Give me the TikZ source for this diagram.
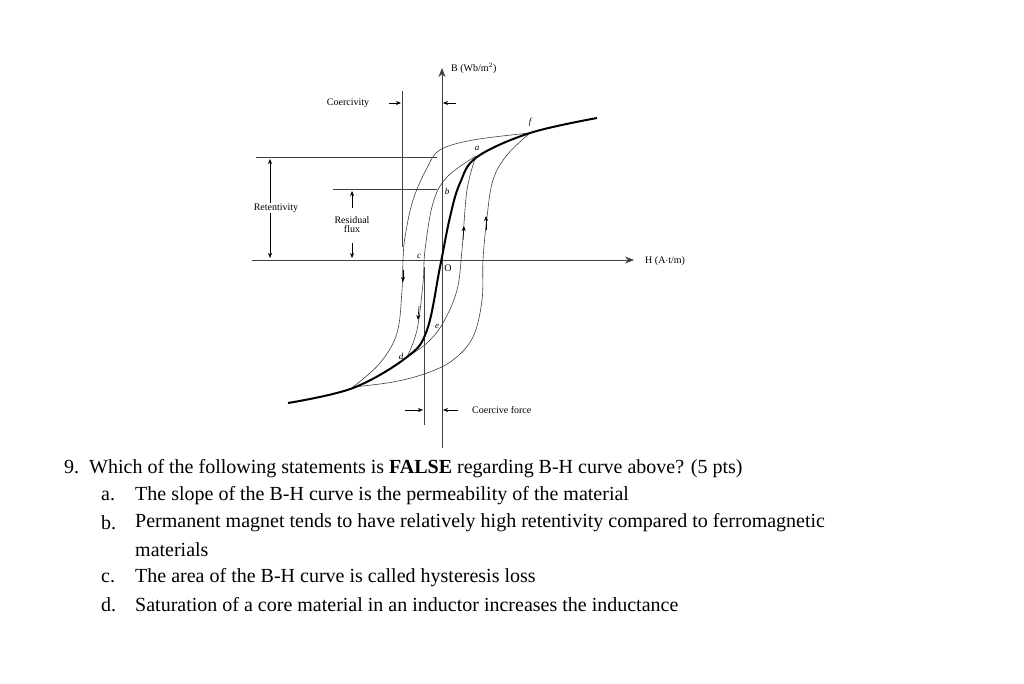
\documentclass[tikz,border=0pt]{standalone}
\usepackage{fontspec}
\setmainfont{Liberation Serif}
\usetikzlibrary{arrows.meta}
\begin{document}
\begin{tikzpicture}[x=1pt,y=-1pt,
  thin line/.style={line width=0.6pt,black!75},
  thick curve/.style={line width=2pt},
  lbl/.style={font=\fontsize{10}{11}\selectfont,inner sep=1pt},
  let/.style={font=\fontsize{9}{10}\selectfont\itshape,inner sep=0pt},
  q/.style={font=\fontsize{20}{24}\selectfont,anchor=west,inner sep=0pt},
  arr/.style={-{Stealth[length=5pt,width=4pt]},line width=0.6pt},
  mid/.style={postaction={decorate}}]
\useasboundingbox (0,0) rectangle (1024,683);
% axes
\coordinate (Bb) at (442,448); \coordinate (Bt) at (442,68);
\coordinate (Hl) at (252,260); \coordinate (Hr) at (634,260);
\draw[thin line,-{Stealth[length=9pt,width=7pt]}] (Bb) -- (Bt);
\draw[thin line,-{Stealth[length=9pt,width=7pt]}] (Hl) -- (Hr);
\node[lbl,anchor=west] (Blab) at (450,68) {B (Wb/m$^2$)};
\node[lbl,anchor=west] (Hlab) at (644,261) {H (A$\cdot$t/m)};
% coercivity
\coordinate (c1) at (402,91); \coordinate (c2) at (402,247);
\draw[thin line] (c1) -- (c2);
\node[lbl] (coer) at (348,103) {Coercivity};
\coordinate (ca1) at (389,103); \coordinate (ca2) at (401,103);
\coordinate (cb1) at (456,103); \coordinate (cb2) at (443,103);
\draw[arr] (ca1) -- (ca2); \draw[arr] (cb1) -- (cb2);
% coercive force
\coordinate (f1) at (424,267); \coordinate (f2) at (424,425);
\draw[thin line] (f1) -- (f2);
\coordinate (fa1) at (405,410); \coordinate (fa2) at (423,410);
\coordinate (fb1) at (458,410); \coordinate (fb2) at (443,410);
\draw[arr] (fa1) -- (fa2); \draw[arr] (fb1) -- (fb2);
\node[lbl,anchor=west] (cf) at (471,410) {Coercive force};
% retentivity
\coordinate (r1) at (256,157); \coordinate (r2) at (437,157);
\draw[thin line] (r1) -- (r2);
\coordinate (ru) at (270,159); \coordinate (rd) at (270,258);
\draw[arr,{Stealth[length=5pt,width=4pt]}-{Stealth[length=5pt,width=4pt]}] (ru) -- (rd);
\node[lbl,fill=white] (ret) at (276,208) {Retentivity};
% residual flux
\coordinate (s1) at (333,189); \coordinate (s2) at (437,189);
\draw[thin line] (s1) -- (s2);
\coordinate (su1) at (352,208); \coordinate (su2) at (352,191);
\coordinate (sd1) at (352,243); \coordinate (sd2) at (352,258);
\draw[arr] (su1) -- (su2); \draw[arr] (sd1) -- (sd2);
\node[lbl,align=center] (res) at (352,225) {Residual\\[-2pt]flux};
% outer loop
\draw[thin line] plot[smooth,tension=0.6] coordinates {(530,133) (473,140) (440,150) (427,168) (413,200) (405,237) (403,260) (402,290) (397,333) (380,363) (353,387)};
\draw[thin line] plot[smooth,tension=0.6] coordinates {(353,387) (393,382) (427,373) (453,360) (473,337) (482,300) (483,260) (487,217) (493,180) (507,155) (530,133)};
% inner loop
\draw[thin line] plot[smooth,tension=0.6] coordinates {(476,156) (447,177) (433,203) (425,250) (423,283) (417,330) (407,357)};
\draw[thin line] plot[smooth,tension=0.6] coordinates {(407,357) (427,343) (443,323) (457,290) (462,250) (467,190) (476,156)};
% thick curve
\draw[thick curve] plot[smooth,tension=0.6] coordinates {(288,403) (353,388) (407,357) (427,330) (440,267) (450,217) (460,183) (477,157) (530,133) (597,118)};
% arrows on branches
\coordinate (o1a) at (403,270); \coordinate (o1b) at (403,282);
\coordinate (o2a) at (486,230); \coordinate (o2b) at (486,216);
\coordinate (i1a) at (463,240); \coordinate (i1b) at (464,226);
\coordinate (i2a) at (419,306); \coordinate (i2b) at (418,320);
\draw[arr] (o1a) -- (o1b); \draw[arr] (o2a) -- (o2b);
\draw[arr] (i1a) -- (i1b); \draw[arr] (i2a) -- (i2b);
% point labels
\node[let] (la) at (477,148) {a};
\node[let] (lb) at (447,191) {b};
\node[let] (lc) at (419,256) {c};
\node[let] (ld) at (401,356) {d};
\node[let] (le) at (437,326) {e};
\node[let] (lf) at (530,122) {f};
\node[lbl] (lo) at (448,268) {O};
% question
\node[q] (q0) at (64,469) {9.\ \ Which of the following statements is \textbf{FALSE} regarding B-H curve above? (5 pts)};
\node[q] (qa0) at (101,496) {a.};
\node[q] (qa) at (135,496) {The slope of the B-H curve is the permeability of the material};
\node[q] (qb0) at (101,523) {b.};
\node[q] (qb) at (135,523) {Permanent magnet tends to have relatively high retentivity compared to ferromagnetic};
\node[q] (qb2) at (135,550) {materials};
\node[q] (qc0) at (101,578) {c.};
\node[q] (qc) at (135,578) {The area of the B-H curve is called hysteresis loss};
\node[q] (qd0) at (101,605) {d.};
\node[q] (qd) at (135,605) {Saturation of a core material in an inductor increases the inductance};
\end{tikzpicture}
\end{document}
